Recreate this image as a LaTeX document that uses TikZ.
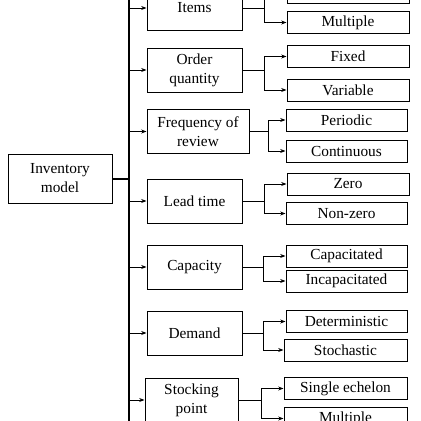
\documentclass[tikz,border=0pt]{standalone}
\usepackage{fontspec}
\setmainfont{Liberation Serif}
\usetikzlibrary{shapes,arrows,arrows.meta,positioning,fit,backgrounds}

\begin{document}
\begin{tikzpicture}[x=0.75pt, y=-0.75pt, every node/.style={font=\fontsize{11.5}{14.25}\selectfont},
	midbox/.style={draw, rectangle, line width=0.75pt, minimum width=71.25pt, minimum height=33pt, align=center, inner sep=1pt},
	leafbox/.style={draw, rectangle, line width=0.75pt, minimum width=91.5pt, minimum height=16.5pt, inner sep=1pt},
	link/.style={line width=0.75pt, -{Stealth[length=4pt, width=3pt]}},
	spine/.style={line width=1.5pt}]
	\useasboundingbox (0,0) rectangle (421,421);
	\clip (0,0) rectangle (421,421);
			\node[midbox, minimum width=78pt, minimum height=36.75pt] (inventory) at (60,178.5) {Inventory\\model};
			\node[midbox] (items) at (194.5,8) {Items};
			\node[midbox] (order) at (194.5,70) {Order\\quantity};
			\node[midbox, minimum width=76.5pt] (review) at (198,131.5) {Frequency of\\review};
			\node[midbox] (lead) at (194.5,201) {Lead time};
			\node[midbox] (capacity) at (194.5,267) {Capacity};
			\node[midbox] (demand) at (194.5,333) {Demand};
			\node[midbox, minimum width=69.75pt] (stocking) at (191.5,400) {Stocking\\point};
			\node[leafbox] (single) at (348,-8) {Single};
			\node[leafbox] (multiple) at (348,22.5) {Multiple};
			\node[leafbox] (fixed) at (348,56.5) {Fixed};
			\node[leafbox] (variable) at (348,90) {Variable};
			\node[leafbox, minimum width=90.75pt] (periodic) at (346.5,120) {Periodic};
			\node[leafbox, minimum width=90.75pt] (continuous) at (346.5,151) {Continuous};
			\node[leafbox] (zero) at (348,184) {Zero};
			\node[leafbox, minimum width=90.75pt] (nonzero) at (346.5,213.5) {Non-zero};
			\node[leafbox, minimum width=90.75pt] (capacitated) at (346.5,256) {Capacitated};
			\node[leafbox, minimum width=90.75pt] (incapacitated) at (346.5,281) {Incapacitated};
			\node[leafbox, minimum width=90.75pt] (deterministic) at (346.5,321.5) {Deterministic};
			\node[leafbox, minimum width=92.25pt] (stochastic) at (345.5,350) {Stochastic};
			\node[leafbox, minimum width=92.25pt] (echelon) at (345.5,388.5) {Single echelon};
			\node[leafbox, minimum width=92.25pt] (multiechelon) at (345.5,418.5) {Multiple};
			\coordinate (spinetop) at (129,-30);
			\coordinate (spinebot) at (129,450);
			\draw[spine] (spinetop) -- (spinebot);
			\draw[spine] (inventory.east) -- (spinetop |- inventory.east);
			\foreach \m in {items,order,review,lead,capacity,demand,stocking}
				\draw[link] (spinetop |- \m.west) -- (\m.west);
			\draw[link] (items.east) -- ++(22,0) |- (single.west);
			\draw[link] (items.east) -- ++(22,0) |- (multiple.west);
			\draw[link] (order.east) -- ++(22,0) |- (fixed.west);
			\draw[link] (order.east) -- ++(22,0) |- (variable.west);
			\draw[link] (review.east) -- ++(19,0) |- (periodic.west);
			\draw[link] (review.east) -- ++(19,0) |- (continuous.west);
			\draw[link] (lead.east) -- ++(22,0) |- (zero.west);
			\draw[link] (lead.east) -- ++(22,0) |- (nonzero.west);
			\draw[link] (capacity.east) -- ++(21,0) |- (capacitated.west);
			\draw[link] (capacity.east) -- ++(21,0) |- (incapacitated.west);
			\draw[link] (demand.east) -- ++(21,0) |- (deterministic.west);
			\draw[link] (demand.east) -- ++(21,0) |- (stochastic.west);
			\draw[link] (stocking.east) -- ++(23,0) |- (echelon.west);
			\draw[link] (stocking.east) -- ++(23,0) |- (multiechelon.west);
\end{tikzpicture}
\end{document}
